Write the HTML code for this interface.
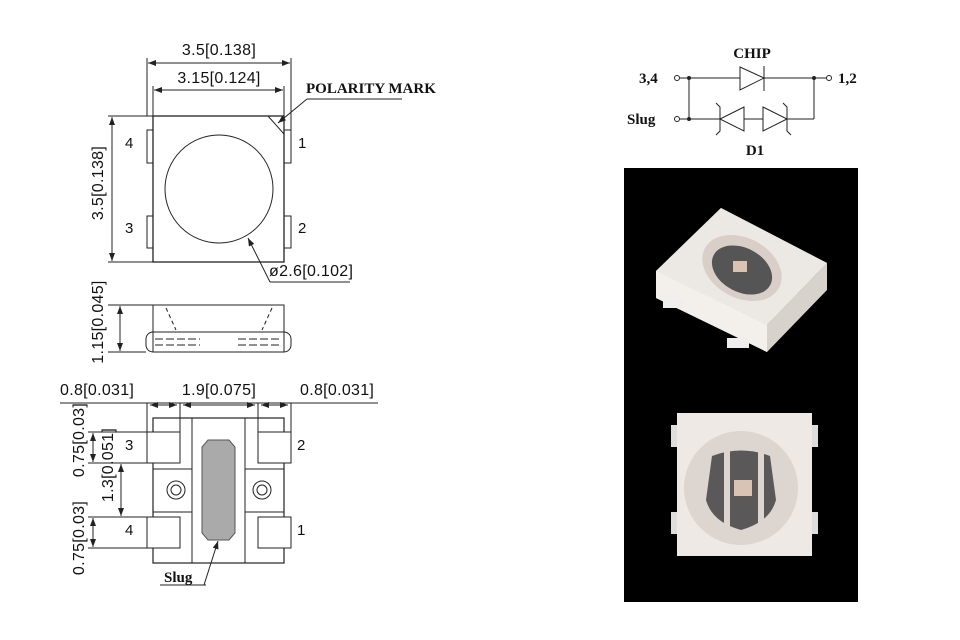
<!DOCTYPE html>
<html><head><meta charset="utf-8"><style>
body{margin:0;background:#fff;}
svg{display:block}
.d{font-family:"Liberation Sans",sans-serif;font-size:16px;letter-spacing:0.3px;fill:#111}
.p{font-family:"Liberation Sans",sans-serif;font-size:15px;fill:#111}
.s{font-family:"Liberation Serif",serif;font-weight:bold;font-size:15px;fill:#111}
</style></head><body>
<svg width="960" height="640" viewBox="0 0 960 640" xmlns="http://www.w3.org/2000/svg">
<defs><marker id="a" markerWidth="8" markerHeight="6" refX="8" refY="3" orient="auto-start-reverse"><path d="M0,0 L8,3 L0,6" fill="#222"/></marker></defs>
<g stroke="#222" fill="none" stroke-width="1">
<rect x="153" y="116" width="131" height="146" stroke-width="1.3"/>
<circle cx="219" cy="189" r="54"/>
<rect x="147" y="130" width="6" height="33"/><rect x="147" y="216" width="6" height="32"/>
<rect x="284" y="130" width="7" height="33"/><rect x="284" y="216" width="7" height="32"/>
<line x1="268" y1="116" x2="284" y2="134"/>
<line x1="147" y1="58" x2="147" y2="116"/><line x1="291" y1="58" x2="291" y2="130"/>
<line x1="153" y1="86" x2="153" y2="116"/><line x1="284" y1="86" x2="284" y2="116"/>
<line x1="148" y1="63" x2="290" y2="63" marker-start="url(#a)" marker-end="url(#a)"/>
<line x1="154" y1="90" x2="283" y2="90" marker-start="url(#a)" marker-end="url(#a)"/>
<line x1="307" y1="99" x2="402" y2="99"/><line x1="307" y1="99" x2="278" y2="123" marker-end="url(#a)"/>
<line x1="108" y1="116" x2="153" y2="116"/><line x1="108" y1="262" x2="153" y2="262"/>
<line x1="112" y1="117" x2="112" y2="261" marker-start="url(#a)" marker-end="url(#a)"/>
<line x1="270" y1="282" x2="248" y2="238" marker-end="url(#a)"/><line x1="270" y1="282" x2="350" y2="282"/>
<rect x="153" y="305" width="131" height="47"/>
<rect x="146" y="332" width="145" height="20" rx="7"/>
<path d="M166,308 L176,330 M272,308 L262,330" stroke-dasharray="4,3"/>
<path d="M155,339 H200 M238,339 H282 M155,345 H200 M238,345 H282" stroke-dasharray="8,3"/>
<line x1="108" y1="305" x2="153" y2="305"/><line x1="108" y1="352" x2="146" y2="352"/>
<line x1="120" y1="306" x2="120" y2="351" marker-start="url(#a)" marker-end="url(#a)"/>
<rect x="153" y="418" width="131" height="145" stroke-width="1.2"/>
<line x1="192" y1="418" x2="192" y2="563"/><line x1="245" y1="418" x2="245" y2="563"/>
<line x1="153" y1="469" x2="192" y2="469"/><line x1="153" y1="512" x2="192" y2="512"/>
<line x1="245" y1="469" x2="284" y2="469"/><line x1="245" y1="512" x2="284" y2="512"/>
<rect x="147" y="432" width="33" height="31" fill="#fff"/><rect x="147" y="517" width="33" height="31" fill="#fff"/>
<rect x="258" y="432" width="33" height="31" fill="#fff"/><rect x="258" y="517" width="33" height="31" fill="#fff"/>
<path d="M208,440 H229 L235,447 V533 L229,540 H208 L202,533 V447 Z" fill="#aaa" stroke="#555"/>
<circle cx="176" cy="490" r="9"/><circle cx="176" cy="490" r="5"/>
<circle cx="262" cy="490" r="9"/><circle cx="262" cy="490" r="5"/>
<line x1="60" y1="403" x2="378" y2="403"/>
<line x1="147" y1="403" x2="147" y2="432"/><line x1="180" y1="403" x2="180" y2="432"/>
<line x1="258" y1="403" x2="258" y2="432"/><line x1="291" y1="403" x2="291" y2="432"/>
<line x1="150" y1="405" x2="177" y2="405" marker-start="url(#a)" marker-end="url(#a)"/>
<line x1="183" y1="405" x2="255" y2="405" marker-start="url(#a)" marker-end="url(#a)"/>
<line x1="261" y1="405" x2="288" y2="405" marker-start="url(#a)" marker-end="url(#a)"/>
<line x1="88" y1="432" x2="147" y2="432"/><line x1="88" y1="463" x2="147" y2="463"/>
<line x1="88" y1="517" x2="147" y2="517"/><line x1="88" y1="548" x2="147" y2="548"/>
<line x1="93" y1="433" x2="93" y2="462" marker-start="url(#a)" marker-end="url(#a)"/>
<line x1="121" y1="464" x2="121" y2="516" marker-start="url(#a)" marker-end="url(#a)"/>
<line x1="93" y1="518" x2="93" y2="547" marker-start="url(#a)" marker-end="url(#a)"/>
<line x1="204" y1="585" x2="218" y2="541" marker-end="url(#a)"/><line x1="160" y1="585" x2="206" y2="585"/>
<circle cx="677" cy="78" r="2.5"/><circle cx="829" cy="78" r="2.5"/>
<circle cx="677" cy="119" r="2.5"/>
<line x1="680" y1="78" x2="740" y2="78"/><line x1="764" y1="78" x2="826" y2="78"/>
<path d="M740,67 L764,78 L740,90 Z"/><line x1="764" y1="66" x2="764" y2="91"/>
<line x1="680" y1="119" x2="720" y2="119"/><line x1="689" y1="78" x2="689" y2="119"/>
<line x1="814" y1="78" x2="814" y2="119"/><line x1="787" y1="119" x2="814" y2="119"/>
<path d="M744,107 L720,119 L744,131 Z"/><path d="M763,107 L787,119 L763,131 Z"/>
<line x1="744" y1="119" x2="763" y2="119"/>
<path d="M716,103 L720,107 V131 L716,135"/><path d="M783,103 L787,107 V131 L791,135"/>
</g>
<g fill="#222"><circle cx="689" cy="78" r="2"/><circle cx="689" cy="119" r="2"/><circle cx="814" cy="78" r="2"/></g>
<text class="d" x="219" y="55" text-anchor="middle">3.5[0.138]</text>
<text class="d" x="219" y="83" text-anchor="middle">3.15[0.124]</text>
<text class="s" x="306" y="93">POLARITY MARK</text>
<text class="p" x="125" y="148">4</text><text class="p" x="298" y="148">1</text>
<text class="p" x="125" y="233">3</text><text class="p" x="298" y="233">2</text>
<text class="d" x="269" y="276">ø2.6[0.102]</text>
<text class="d" transform="translate(103,183) rotate(-90)" text-anchor="middle">3.5[0.138]</text>
<text class="d" transform="translate(103,322) rotate(-90)" text-anchor="middle">1.15[0.045]</text>
<text class="d" x="60" y="395">0.8[0.031]</text>
<text class="d" x="219" y="395" text-anchor="middle">1.9[0.075]</text>
<text class="d" x="300" y="395">0.8[0.031]</text>
<text class="p" x="125" y="450">3</text><text class="p" x="297" y="450">2</text>
<text class="p" x="125" y="535">4</text><text class="p" x="297" y="535">1</text>
<text class="d" transform="translate(84,440) rotate(-90)" text-anchor="middle">0.75[0.03]</text>
<text class="d" transform="translate(113,465) rotate(-90)" text-anchor="middle">1.3[0.051]</text>
<text class="d" transform="translate(84,538) rotate(-90)" text-anchor="middle">0.75[0.03]</text>
<text class="s" x="164" y="582">Slug</text>
<text class="s" x="752" y="58" text-anchor="middle">CHIP</text>
<text class="s" x="639" y="83">3,4</text><text class="s" x="838" y="83">1,2</text>
<text class="s" x="627" y="124">Slug</text>
<text class="s" x="755" y="155" text-anchor="middle">D1</text>
<rect x="624" y="168" width="234" height="434" fill="#000"/>
<polygon points="656,271 721,208 827,263 767,325 767,352 656,298" fill="#e6e1dc"/>
<polygon points="656,271 767,325 767,352 656,298" fill="#f3efea"/>
<polygon points="767,325 827,263 827,290 767,352" fill="#d8d2cc"/>
<polygon points="656,271 721,208 827,263 767,325" fill="#ece8e3"/>
<ellipse cx="742" cy="268" rx="42" ry="30" transform="rotate(28 742 268)" fill="#d9cfc8"/>
<ellipse cx="742" cy="270" rx="32" ry="22" transform="rotate(28 742 270)" fill="#555"/>
<rect x="733" y="261" width="14" height="11" fill="#d9c4b4"/>
<rect x="663" y="300" width="20" height="8" fill="#eee"/><rect x="727" y="338" width="22" height="10" fill="#eee"/>
<rect x="677" y="413" width="135" height="143" fill="#eee9e4"/>
<rect x="671" y="425" width="6" height="22" fill="#ddd"/><rect x="671" y="512" width="6" height="22" fill="#ddd"/>
<rect x="812" y="425" width="6" height="22" fill="#ddd"/><rect x="812" y="512" width="6" height="22" fill="#ddd"/>
<circle cx="741" cy="488" r="57" fill="#ddd5cf"/>
<path d="M712,456 Q741,445 770,456 L776,500 Q770,522 741,530 Q712,522 706,500 Z" fill="#5a5858"/>
<rect x="724" y="450" width="6" height="76" fill="#ddd5cf"/><rect x="758" y="450" width="6" height="76" fill="#ddd5cf"/>
<rect x="734" y="480" width="18" height="16" fill="#d9c4b4"/>
</svg>
</body></html>
